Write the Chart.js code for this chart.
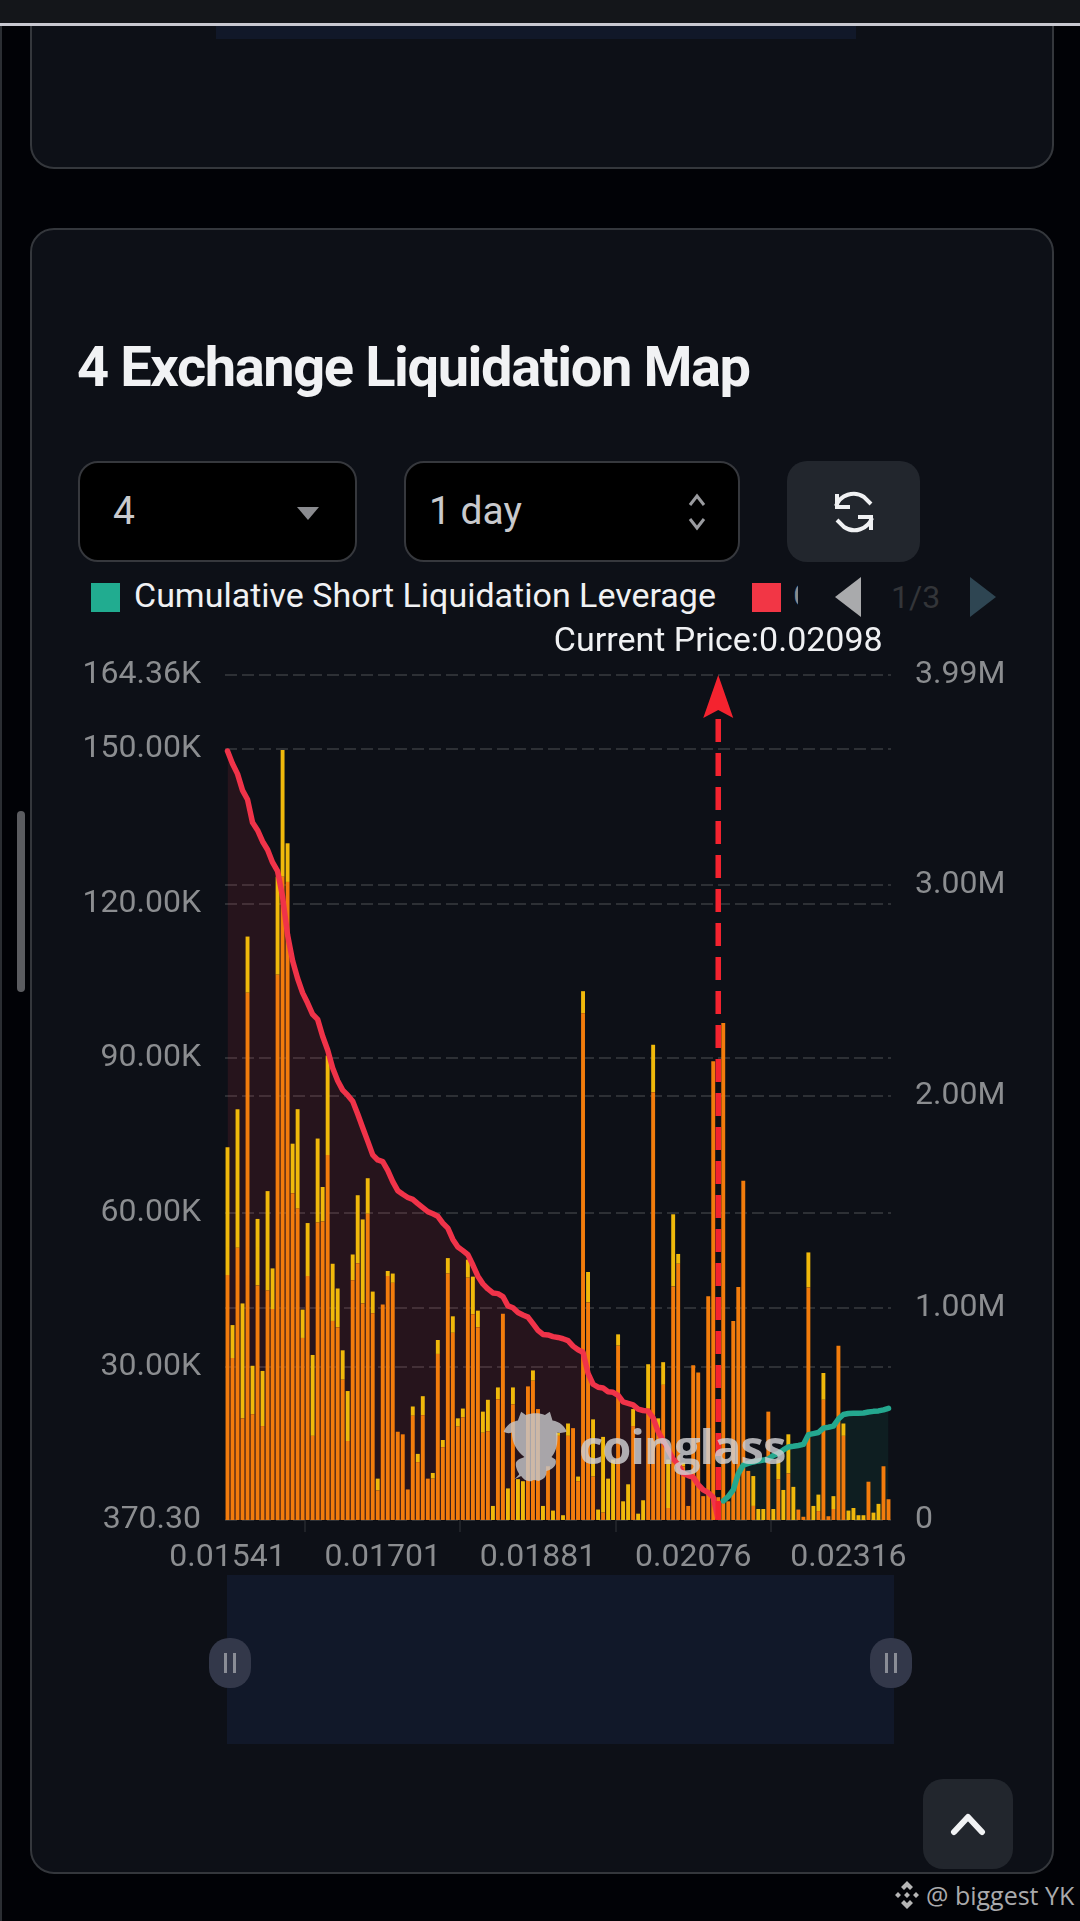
<!DOCTYPE html>
<html>
<head>
<meta charset="utf-8">
<title>4 Exchange Liquidation Map</title>
<script src="https://cdn.jsdelivr.net/npm/chart.js@4/dist/chart.umd.min.js"></script>
<style>
  html, body { margin: 0; padding: 0; background: #010206; }
  #page { position: relative; width: 1080px; height: 1921px; overflow: hidden; background: #010206; font-family: Roboto, sans-serif; }
  #page > * { position: absolute; box-sizing: border-box; }
  .card { background: #0d1017; border: 2px solid #34373c; border-radius: 24px; left: 30px; width: 1024px; }
  .select { background: #000; border: 2px solid #36383d; border-radius: 20px; top: 461px; height: 101px; color: #c9cacd; font-size: 39px; line-height: 97px; }
  .zoomBand { background: #111829; }
  .handle { background: #33384a; border-radius: 20px; top: 1638px; width: 42px; height: 50px; }
  .handle i { position: absolute; top: 15px; width: 3px; height: 20px; background: #8a8d96; }
  .legendText { color: #f0f1f3; font-size: 34px; line-height: 40px; white-space: nowrap; }
</style>
</head>
<body>
<div id="page">
  <div style="left:0;top:0;width:2px;height:1921px;background:#2b2e33"></div>
  <div class="card" style="top:-40px;height:209px"></div>
  <div class="zoomBand" style="left:216px;top:26px;width:640px;height:13px"></div>
  <div style="left:0;top:0;width:1080px;height:23px;background:#14161a"></div>
  <div style="left:0;top:23px;width:1080px;height:3px;background:#c8c8d0"></div>
  <div style="left:17px;top:811px;width:8px;height:181px;border-radius:4px;background:#5b5c60"></div>

  <div class="card" style="top:228px;height:1646px"></div>
  <div style="left:77px;top:334px;font:700 56px/66px Roboto,sans-serif;letter-spacing:-1.4px;color:#f1f2f4;white-space:nowrap">4 Exchange Liquidation Map</div>

  <div class="select" style="left:78px;width:279px;padding-left:33px">4</div>
  <svg style="left:297px;top:507px" width="22" height="13"><path d="M0 0H22L11 13Z" fill="#8a8b8f"/></svg>
  <div class="select" style="left:404px;width:336px;padding-left:23px">1 day</div>
  <svg style="left:687px;top:491px" width="20" height="42" fill="none" stroke="#9a9b9f" stroke-width="3"><path d="M3 14 10 5 17 14M3 28 10 37 17 28"/></svg>
  <div style="left:787px;top:461px;width:133px;height:101px;border-radius:20px;background:#22262d"></div>
  <svg style="left:830px;top:488px" width="48" height="48" fill="none" stroke="#f0f1f3" stroke-width="4"><path d="M6 18C10 7 24 2 34 9L41 16M42 30C38 41 24 46 14 39L7 32"/><path d="M7 6V19H20M41 42V29H28"/></svg>

  <div style="left:91px;top:583px;width:29px;height:29px;background:#21ac90"></div>
  <div class="legendText" style="left:134px;top:575px">Cumulative Short Liquidation Leverage</div>
  <div style="left:752px;top:583px;width:29px;height:29px;background:#f23645"></div>
  <div class="legendText" style="left:793px;top:575px;width:5px;overflow:hidden;color:#8a8b8f">Cumulative Long Liquidation Leverage</div>
  <svg style="left:835px;top:577px" width="26" height="40"><path d="M26 0V40L0 20Z" fill="#a9aaac"/></svg>
  <div style="left:891px;top:577px;color:#333539;font-size:32px;line-height:40px">1/3</div>
  <svg style="left:970px;top:577px" width="26" height="40"><path d="M0 0V40L26 20Z" fill="#2e4552"/></svg>

  <div class="zoomBand" style="left:227px;top:1575px;width:667px;height:169px"></div>
  <div class="handle" style="left:209px"><i style="left:15px"></i><i style="left:24px"></i></div>
  <div class="handle" style="left:870px"><i style="left:15px"></i><i style="left:24px"></i></div>

  <canvas id="liqChart" width="1080" height="980" style="left:0;top:600px"></canvas>

  <!-- marca d'agua -->
  <svg style="left:502px;top:1410px;opacity:.82" width="66" height="74" viewBox="60 90 200 224"><path fill="#c6c6c8" d="M65 155C80 125 100 125 108 122L118 95 132 105C150 98 175 98 190 105L205 95 213 122C235 125 250 140 256 155 245 160 235 160 228 158 230 190 225 215 210 232L222 240C228 255 215 270 195 275 195 290 190 300 170 305 165 305 160 298 150 305 135 308 125 300 118 290L98 300 112 285C112 280 100 270 102 250 105 240 120 235 128 232 105 215 90 190 90 158 80 162 72 160 65 155Z"/></svg>
  <div style="left:579px;top:1416px;font:700 47px/60px 'Open Sans',sans-serif;letter-spacing:-.9px;color:#d0d0d2;opacity:.82;white-space:nowrap">coinglass</div>

  <div style="left:923px;top:1779px;width:90px;height:90px;border-radius:20px;background:#22262d"></div>
  <svg style="left:950px;top:1812px" width="36" height="24" fill="none" stroke="#f1f2f4" stroke-width="6" stroke-linecap="round" stroke-linejoin="round"><path d="M4 20 18 5 32 20"/></svg>

  <svg style="left:893px;top:1880px" width="28" height="30" viewBox="0 0 28 30" fill="#b5b5b5"><path d="M14 1 20 7 17 10 14 7 11 10 8 7ZM14 29 8 23 11 20 14 23 17 20 20 23ZM5 12 8 15 5 18 2 15ZM23 12 26 15 23 18 20 15ZM14 12 17 15 14 18 11 15Z"/></svg>
  <div style="left:926px;top:1878px;font:400 25px/34px 'Open Sans',sans-serif;color:#aaaaac;white-space:nowrap">@ biggest YK</div>
</div>

<script>
// dados lidos do grafico
// alavancagem por nivel de preco, em milhares (K)
const orangeBars = [
  47.9,31.8,53.2,20.1,102.7,20.9,45.9,18.6,44.9,41.3,
  106.2,125.2,124.2,63.8,60.8,35.7,47.7,16.7,58.1,58.3,
  71.2,39.0,37.8,27.6,15.7,46.9,50.2,42.4,59.8,40.5,
  6.1,42.2,47.7,46.4,17.5,17.0,6.3,20.6,11.6,20.7,
  8.4,8.4,32.6,14.5,48.2,36.7,18.5,20.3,47.4,40.3,
  37.8,17.3,17.6,0,23.8,40.4,0,22.8,0,0,
  26.3,27.4,21.9,0,10.8,0,16.7,0,16.7,18.2,
  7.9,98.7,42.6,8.8,0,1.8,0,0,34.2,0,
  0,18.6,0,0,22.1,83.4,18.0,26.6,2.7,45.7,
  50.1,10.8,3.1,30.4,29.0,5.0,43.8,89.4,4.8,96.8,
  4.0,39.0,45.6,66.2,9.9,3.1,0,0,21.4,0,
  8.3,0,9.4,0,2.4,1.0,45.5,0,2.1,23.7,
  1.1,2.5,34.2,16.7,0,0,0,0,7.8,0,
  0,10.8,4.4
];
const yellowBars = [
  24.8,6.4,26.9,22.3,10.9,9.4,12.9,10.7,19.3,7.9,
  19.0,24.6,7.5,9.6,19.3,5.5,10.3,15.7,16.3,6.7,
  19.3,11.1,7.5,5.7,9.7,5.0,13.2,16.3,6.9,4.2,
  2.3,0,1.0,1.8,0,0,0,1.8,1.6,3.7,
  0,1.1,2.7,1.4,3.0,3.2,1.6,1.7,3.5,7.3,
  3.2,4.1,6.1,3.1,2.3,0,6.5,3.3,8.3,7.9,
  0,2.0,0,3.1,0,2.2,0.6,1.3,2.4,0,
  0.9,4.3,5.9,11.1,2.4,14.7,8.4,12.1,2.2,4.0,
  7.3,3.3,1.6,4.2,8.5,9.2,2.1,4.4,9.4,14.0,
  1.9,0.7,0,0,0,0,0,0,0,0,
  0,0,0,0,0,5.8,2.5,2.5,0,2.5,
  3.8,6.2,7.6,6.8,0,0,6.8,3.1,3.2,5.2,
  0,2.5,0,2.4,2.2,2.7,1.3,1.3,0,1.8,
  3.5,0,0
];
// acumulado, em milhoes (M)
const cumulativeLong = [
  3.631,3.571,3.523,3.445,3.402,3.293,3.257,3.204,3.165,3.105,
  3.064,2.943,2.762,2.641,2.557,2.489,2.441,2.388,2.364,2.284,
  2.219,2.134,2.074,2.030,2.006,1.977,1.917,1.852,1.789,1.724,
  1.700,1.692,1.651,1.598,1.555,1.538,1.523,1.514,1.494,1.475,
  1.456,1.446,1.434,1.402,1.378,1.325,1.289,1.272,1.253,1.204,
  1.151,1.115,1.091,1.072,1.069,1.055,1.011,1.002,0.980,0.968,
  0.958,0.927,0.895,0.876,0.874,0.866,0.862,0.856,0.847,0.821,
  0.804,0.792,0.692,0.641,0.627,0.623,0.606,0.603,0.589,0.558,
  0.551,0.544,0.524,0.517,0.514,0.482,0.417,0.374,0.331,0.288,
  0.262,0.219,0.210,0.202,0.167,0.142,0.129,0.107,0
];
const cumulativeShort = [
  0.090,0.111,0.142,0.219,0.259,0.267,0.274,0.279,0.283,0.288,
  0.305,0.314,0.331,0.345,0.348,0.352,0.357,0.403,0.408,0.413,
  0.434,0.438,0.443,0.477,0.498,0.503,0.504,0.504,0.505,0.510,
  0.513,0.515,0.520,0.527
];
const xTickIndex = [0, 31, 62, 93, 124];
const xTickLabels = ['0.01541', '0.01701', '0.01881', '0.02076', '0.02316'];
const leftTicks = [0.3703, 30, 60, 90, 120, 150, 164.36];
const leftTickLabels = ['370.30', '30.00K', '60.00K', '90.00K', '120.00K', '150.00K', '164.36K'];
const rightTicks = [0, 1, 2, 3, 3.99];
const rightTickLabels = ['0', '1.00M', '2.00M', '3.00M', '3.99M'];
const currentPriceIndex = 98;
const currentPriceLabel = 'Current Price:0.02098';

const categories = orangeBars.map(function (v, i) {
  const k = xTickIndex.indexOf(i);
  return k >= 0 ? xTickLabels[k] : '';
});
// a curva curta so comeca depois do preco atual
const shortLine = categories.map(function (c, i) {
  const k = i - currentPriceIndex - 1;
  return k >= 0 ? cumulativeShort[k] : null;
});
const longLine = categories.map(function (c, i) {
  return i < cumulativeLong.length ? cumulativeLong[i] : null;
});

const tickFont = { family: 'Roboto, sans-serif', size: 32 };
const tickColor = '#8b8d90';
const gridColor = '#2d3035';

// seta tracejada do preco atual
const currentPricePlugin = {
  id: 'currentPrice',
  afterDatasetsDraw: function (chart) {
    const ctx = chart.ctx;
    const x = chart.scales.x.getPixelForValue(currentPriceIndex);
    const top = chart.chartArea.top;
    const bottom = chart.chartArea.bottom;
    ctx.save();
    ctx.strokeStyle = '#f4232f';
    ctx.fillStyle = '#f4232f';
    ctx.lineWidth = 5.5;
    ctx.setLineDash([23, 11]);
    ctx.beginPath();
    ctx.moveTo(x, top + 44);
    ctx.lineTo(x, bottom);
    ctx.stroke();
    ctx.beginPath();
    ctx.moveTo(x, top);
    ctx.lineTo(x + 15, top + 43);
    ctx.lineTo(x, top + 35);
    ctx.lineTo(x - 15, top + 43);
    ctx.closePath();
    ctx.fill();
    ctx.fillStyle = '#f0f1f3';
    ctx.font = '34px Roboto, sans-serif';
    ctx.textAlign = 'center';
    ctx.textBaseline = 'middle';
    ctx.fillText(currentPriceLabel, x, top - 33);
    ctx.restore();
  }
};

const ctx = document.getElementById('liqChart').getContext('2d');
const myChart = new Chart(ctx, {
  data: {
    labels: categories,
    datasets: [
      { type: 'bar', label: 'Leverage A', data: orangeBars, backgroundColor: '#f27c0c', yAxisID: 'yL', stack: 'lev', order: 3, barPercentage: 0.78, categoryPercentage: 1 },
      { type: 'bar', label: 'Leverage B', data: yellowBars, backgroundColor: '#f0b90b', yAxisID: 'yL', stack: 'lev', order: 3, barPercentage: 0.78, categoryPercentage: 1 },
      { type: 'line', label: 'Cumulative Long Liquidation Leverage', data: longLine, borderColor: '#f03349', backgroundColor: 'rgba(242,54,69,0.11)', borderWidth: 5.5, pointRadius: 0, fill: 'origin', yAxisID: 'yR', order: 1 },
      { type: 'line', label: 'Cumulative Short Liquidation Leverage', data: shortLine, borderColor: '#24a88f', backgroundColor: 'rgba(33,172,144,0.09)', borderWidth: 5.5, pointRadius: 0, fill: 'origin', yAxisID: 'yR', order: 1 }
    ]
  },
  options: {
    responsive: false,
    animation: false,
    layout: { padding: { top: 75, left: 0, right: 0, bottom: 0 } },
    plugins: {
      legend: { display: false },
      tooltip: { enabled: false },
      filler: { drawTime: 'beforeDatasetsDraw' }
    },
    elements: { line: { tension: 0, borderJoinStyle: 'round', borderCapStyle: 'round' } },
    scales: {
      x: {
        stacked: true,
        offset: true,
        afterBuildTicks: function (scale) {
          scale.ticks = xTickIndex.map(function (i) { return { value: i }; });
        },
        afterFit: function (scale) { scale.height = 60; },
        grid: { offset: true, drawOnChartArea: false, drawTicks: true, tickLength: 12, color: '#1f2228', lineWidth: 2 },
        border: { display: false },
        ticks: {
          autoSkip: false,
          maxRotation: 0,
          minRotation: 0,
          padding: 7,
          color: tickColor,
          font: tickFont,
          callback: function (v, i) { return xTickLabels[i]; }
        }
      },
      yL: {
        position: 'left',
        stacked: true,
        min: leftTicks[0],
        max: leftTicks[leftTicks.length - 1],
        afterBuildTicks: function (scale) {
          scale.ticks = leftTicks.map(function (v) { return { value: v }; });
        },
        afterFit: function (scale) { scale.width = 225; },
        grid: { color: gridColor, lineWidth: 2, drawTicks: false },
        border: { display: false, dash: [12, 5] },
        ticks: {
          autoSkip: false,
          padding: 24,
          color: tickColor,
          font: tickFont,
          callback: function (v, i) { return leftTickLabels[i]; }
        }
      },
      yR: {
        position: 'right',
        min: rightTicks[0],
        max: rightTicks[rightTicks.length - 1],
        afterBuildTicks: function (scale) {
          scale.ticks = rightTicks.map(function (v) { return { value: v }; });
        },
        afterFit: function (scale) { scale.width = 189; },
        grid: { color: gridColor, lineWidth: 2, drawTicks: false },
        border: { display: false, dash: [12, 5] },
        ticks: {
          autoSkip: false,
          padding: 24,
          color: tickColor,
          font: tickFont,
          callback: function (v, i) { return rightTickLabels[i]; }
        }
      }
    }
  },
  plugins: [currentPricePlugin]
});
</script>
</body>
</html>
